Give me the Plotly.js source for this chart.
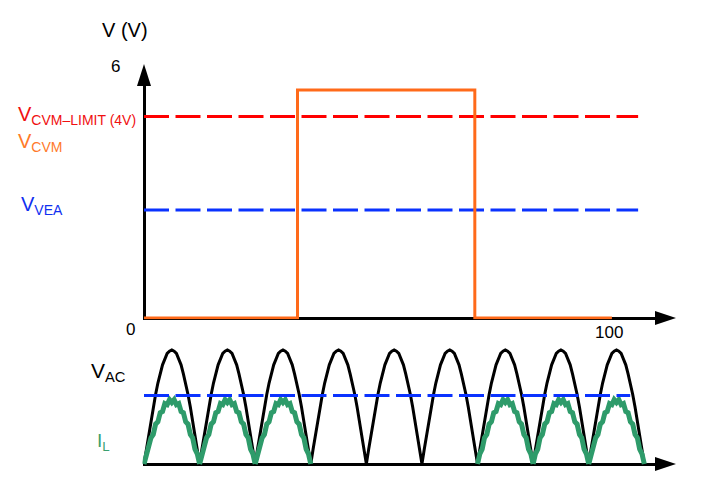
<!DOCTYPE html>
<html><head><meta charset="utf-8">
<script src="https://cdn.plot.ly/plotly-3.0.1.min.js"></script>
<style>html,body{margin:0;padding:0;background:#fff}</style>
</head><body><div id="chart" style="width:708px;height:487px"></div>
<script>
// ---------- data ----------
const cvmX = [0, 32.8, 32.8, 70.7, 70.7, 100];
const cvmY = [0, 0, 5.43, 5.43, 0, 0];
const limitX = [0, 105.6];
const limitY = [4.8, 4.8];
const veaX = [0, 105.6];
const veaY = [2.57, 2.57];
const veaBottomX = [0, 103.9];
const veaBottomY = [0.6, 0.6];
const humpStarts = [0, 11.88, 23.76, 35.64, 47.52, 59.40, 71.28, 83.16, 95.04];
const humpWidth = 11.88;
const ilOn = [true, true, true, false, false, false, true, true, true];
const humpPhase = [0, .0417, .0833, .125, .1667, .2083, .25, .2917, .3333, .375, .4167, .4583, .5,
                   .5417, .5833, .625, .6667, .7083, .75, .7917, .8333, .875, .9167, .9583, 1];
const vacShape = [0, .13, .26, .38, .50, .61, .71, .79, .87, .92, .97, .99, 1,
                  .99, .97, .92, .87, .79, .71, .61, .50, .38, .26, .13, 0];
const ilShape = [0, .09, .13, .23, .26, .35, .37, .45, .46, .53, .52, .565, .54,
                 .565, .52, .53, .46, .45, .37, .35, .26, .23, .13, .09, 0];
const tickLabels = ['6', '0', '100'];
const axisTitle = 'V (V)';

// ---------- build hump series ----------
const vacX = [], vacY = [], ilX = [], ilY = [];
humpStarts.forEach((s, i) => {
  humpPhase.forEach((p, k) => {
    if (k === 0 && i > 0) return;
    vacX.push(s + p * humpWidth); vacY.push(vacShape[k]);
  });
  if (ilOn[i]) {
    humpPhase.forEach((p, k) => { ilX.push(s + p * humpWidth); ilY.push(ilShape[k]); });
  }
  ilX.push(null); ilY.push(null);
});

const W = 708, H = 487;
const px = v => v / W;
const py = v => 1 - v / H;

const traces = [
  {x: limitX, y: limitY, xaxis: 'x', yaxis: 'y', mode: 'lines',
   line: {color: '#ff0000', width: 3, dash: '25px,6.5px'}},
  {x: veaX, y: veaY, xaxis: 'x', yaxis: 'y', mode: 'lines',
   line: {color: '#0a32ff', width: 3, dash: '25px,6.5px'}},
  {x: cvmX, y: cvmY, xaxis: 'x', yaxis: 'y', mode: 'lines',
   line: {color: '#ff6a1a', width: 3}},
  {x: vacX, y: vacY, xaxis: 'x2', yaxis: 'y2', mode: 'lines',
   line: {color: '#000000', width: 3}},
  {x: ilX, y: ilY, xaxis: 'x2', yaxis: 'y2', mode: 'lines', connectgaps: false,
   line: {color: '#2e9b6a', width: 5}},
  {x: veaBottomX, y: veaBottomY, xaxis: 'x2', yaxis: 'y2', mode: 'lines',
   line: {color: '#0a32ff', width: 3, dash: '25px,6.5px'}}
];

const xr = [-0.3, 109.42];
const baseAx = {showgrid: false, showticklabels: false, ticks: '', showline: false,
                zerolinecolor: '#000', zerolinewidth: 3, fixedrange: true};

function ann(text, x, y, size, color, xanchor) {
  return {text: text, x: px(x), y: py(y), xref: 'paper', yref: 'paper', showarrow: false,
          xanchor: xanchor || 'left', yanchor: 'middle',
          font: {family: 'Liberation Sans, Arial, sans-serif', size: size, color: color}};
}
function tri(pts) {
  return {type: 'path', xref: 'paper', yref: 'paper', layer: 'above',
          path: 'M' + pts.map(p => px(p[0]) + ',' + py(p[1])).join(' L') + ' Z',
          fillcolor: '#000', line: {width: 0}};
}

const layout = {
  width: W, height: H, margin: {l: 0, r: 0, t: 0, b: 0},
  paper_bgcolor: '#fff', plot_bgcolor: 'rgba(0,0,0,0)', showlegend: false,
  xaxis: Object.assign({}, baseAx, {domain: [px(142.6), px(656)], range: xr, anchor: 'y', zeroline: true}),
  yaxis: Object.assign({}, baseAx, {domain: [py(319.3), py(84.9)], range: [-0.03, 5.55], anchor: 'x', zeroline: true}),
  xaxis2: Object.assign({}, baseAx, {domain: [px(142.6), px(656)], range: xr, anchor: 'y2', zeroline: false}),
  yaxis2: Object.assign({}, baseAx, {domain: [py(466.3), py(338.6)], range: [-0.02, 1.1], anchor: 'x2', zeroline: true}),
  shapes: [
    tri([[655, 311], [676, 318], [655, 325]]),
    tri([[137, 86], [144, 64], [151, 86]]),
    tri([[655, 457], [676, 464], [655, 471]])
  ],
  annotations: [
    ann(axisTitle, 125, 30, 20, '#000', 'center'),
    ann(tickLabels[0], 116, 67, 17, '#000', 'center'),
    ann(tickLabels[1], 130, 329, 17, '#000', 'center'),
    ann(tickLabels[2], 609, 332, 17, '#000', 'center'),
    ann('V<sub>CVM\u2013LIMIT (4V)</sub>', 16, 116, 20, '#f01010'),
    ann('V<sub>CVM</sub>', 16, 142, 20, '#ff7a2a'),
    ann('V<sub>VEA</sub>', 19, 206, 20, '#1030f0'),
    ann('V<sub>AC</sub>', 89, 372, 21, '#000'),
    ann('I<sub>L</sub>', 95, 442, 19, '#3aa070')
  ]
};

Plotly.newPlot('chart', traces, layout, {staticPlot: true, displayModeBar: false});
</script>
</body></html>
